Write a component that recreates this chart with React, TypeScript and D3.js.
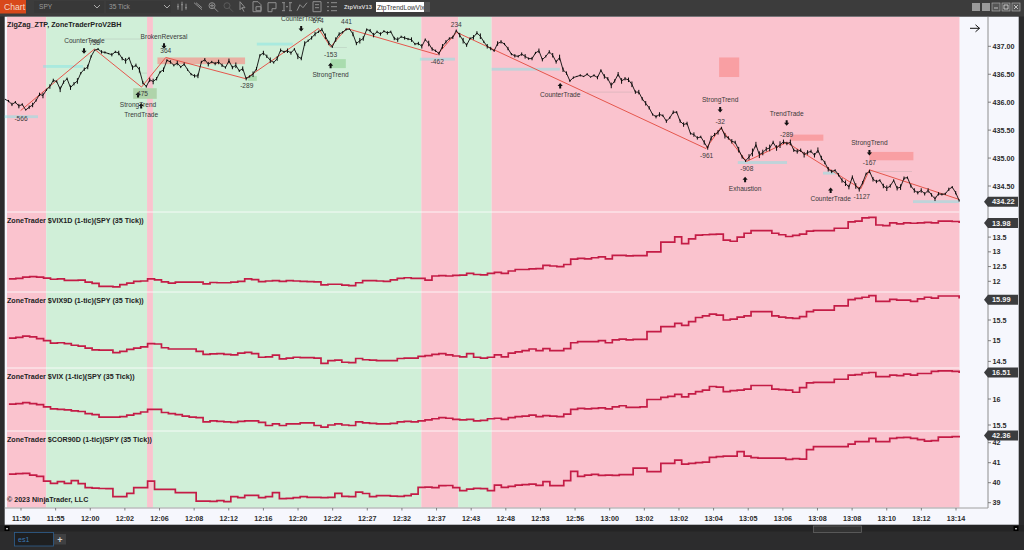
import React from "react";
import * as d3 from "d3";

const timeLabels = ["11:50","11:55","12:00","12:02","12:06","12:08","12:12","12:16","12:20","12:22","12:27","12:32","12:37","12:43","12:48","12:53","12:56","13:00","13:02","13:02","13:04","13:05","13:06","13:08","13:08","13:10","13:12","13:14"];

const price = [436.05,436.02,435.96,436.00,435.93,435.96,435.86,435.91,435.95,436.03,436.14,436.12,436.22,436.28,436.39,436.37,436.23,436.36,436.42,436.26,436.33,436.38,436.52,436.59,436.63,436.82,436.93,436.95,436.90,436.89,436.87,436.85,436.90,436.88,436.78,436.74,436.79,436.62,436.66,436.58,436.35,436.28,436.40,436.37,436.42,436.54,436.58,436.75,436.72,436.66,436.70,436.63,436.68,436.58,436.50,436.47,436.47,436.72,436.76,436.68,436.72,436.69,436.72,436.66,436.62,436.74,436.62,436.66,436.56,436.60,436.42,436.46,436.50,436.60,436.84,436.88,436.82,436.75,436.71,436.78,436.93,436.90,436.92,436.88,436.95,436.82,436.78,437.05,437.10,437.15,437.22,437.26,437.30,437.18,437.06,436.99,437.12,437.22,437.25,437.30,437.31,437.22,437.05,437.10,437.14,437.30,437.28,437.20,437.26,437.22,437.27,437.24,437.26,437.14,437.12,437.17,437.15,437.13,437.12,437.04,437.05,437.00,437.12,437.05,436.95,436.92,436.87,437.00,437.08,437.14,437.16,437.28,437.20,437.10,437.02,437.14,437.16,437.24,437.18,437.08,437.00,436.96,436.92,437.05,437.08,
437.04,436.96,436.86,436.83,436.82,436.86,436.82,436.78,436.78,436.88,436.92,436.76,436.82,436.90,436.84,436.72,436.80,436.58,436.52,436.38,436.44,436.46,436.48,436.46,436.50,436.45,436.48,436.44,436.57,436.46,436.42,436.30,436.38,436.50,436.38,436.42,436.40,436.32,436.18,436.18,436.06,435.98,435.90,435.78,435.74,435.78,435.76,435.66,435.72,435.82,435.82,435.66,435.60,435.62,435.44,435.42,435.36,435.38,435.28,435.18,435.36,435.42,435.46,435.54,435.40,435.36,435.30,435.28,435.15,435.02,434.95,435.02,435.10,435.24,435.06,435.10,435.16,435.18,435.28,435.18,435.24,435.29,435.26,435.28,435.14,435.12,435.14,435.06,435.10,435.12,435.05,435.14,435.00,434.92,434.80,434.76,434.78,434.70,434.60,434.55,434.48,434.66,434.50,434.44,434.56,434.72,434.76,434.62,434.58,434.60,434.50,434.46,434.50,434.60,434.46,434.48,434.64,434.65,434.50,434.42,434.38,434.42,434.36,434.42,434.34,434.27,434.36,434.35,434.36,434.44,434.48,434.38,434.24];

const priceSpread = [0.01,0.02,0.03,0.02,0.04,0.02,0.01,0.03,0.04,0.02,0.03,0.05,0.02,0.04,0.03,0.02,0.05,0.03,0.02,0.04,0.03,0.05,0.02,0.03,0.04,0.02,0.01,0.02,0.03,0.02,0.01,0.03,0.02,0.04,0.03,0.05,0.02,0.04,0.03,0.05,0.03,0.02,0.04,0.05,0.03,0.02,0.04,0.02,0.03,0.02,0.04,0.02,0.03,0.02,0.02,0.03,0.04,0.02,0.03,0.04,0.02,0.03,0.04,0.03,0.02,0.04,0.03,0.05,0.02,0.04,0.03,0.02,0.05,0.03,0.02,0.04,0.03,0.05,0.02,0.04,0.03,0.02,0.04,0.03,0.02,0.05,0.03,0.04,0.02,0.03,0.04,0.02,0.03,0.05,0.04,0.02,0.04,0.03,0.02,0.02,0.01,0.04,0.03,0.05,0.04,0.02,0.03,0.04,0.02,0.03,0.02,0.03,0.02,0.03,0.04,0.02,0.03,0.02,0.04,0.02,0.03,0.04,0.02,0.05,0.03,0.02,0.03,0.04,0.03,0.02,0.03,0.02,0.04,0.05,0.03,0.02,0.04,0.03,0.05,0.02,0.04,0.03,0.02,0.04,0.03,
0.02,0.03,0.02,0.03,0.02,0.03,0.04,0.02,0.03,0.02,0.04,0.03,0.02,0.03,0.04,0.03,0.05,0.04,0.03,0.02,0.02,0.01,0.02,0.01,0.02,0.01,0.02,0.03,0.02,0.04,0.03,0.05,0.03,0.04,0.05,0.03,0.04,0.05,0.03,0.04,0.03,0.04,0.03,0.02,0.03,0.04,0.02,0.03,0.02,0.03,0.02,0.03,0.04,0.03,0.02,0.04,0.03,0.02,0.04,0.03,0.04,0.03,0.04,0.02,0.05,0.03,0.04,0.03,0.05,0.03,0.02,0.05,0.07,0.05,0.06,0.05,0.04,0.06,0.03,0.05,0.06,0.04,0.03,0.05,0.03,0.04,0.03,0.05,0.04,0.03,0.04,0.05,0.04,0.03,0.04,0.03,0.02,0.03,0.04,0.05,0.04,0.03,0.05,0.04,0.03,0.02,0.03,0.04,0.03,0.02,0.04,0.05,0.03,0.02,0.04,0.05,0.03,0.02,0.03,0.04,0.03,0.04,0.03,0.04,0.03,0.04,0.03,0.02,0.02,0.03,0.02,0.03,0.02];

const vix1d = [12.08,12.10,12.14,12.16,12.14,12.11,12.07,12.08,12.03,12.03,12.04,11.97,11.93,11.83,11.83,11.81,11.89,11.94,12.00,12.01,12.08,12.05,11.98,11.94,11.97,11.97,11.97,11.97,11.91,11.96,11.95,11.95,11.97,12.00,12.08,12.06,11.99,12.01,12.02,12.00,12.02,12.01,12.00,11.99,11.98,11.88,11.90,11.90,11.87,11.85,11.95,12.02,12.02,12.01,12.00,12.05,12.10,12.12,12.10,12.10,12.04,12.18,12.19,12.18,12.20,12.21,12.27,12.23,12.22,12.27,12.30,12.27,12.35,12.40,12.40,12.42,12.43,12.54,12.52,12.50,12.57,12.75,12.78,12.76,12.80,12.83,12.76,12.88,12.88,12.86,12.87,12.87,13.00,13.00,13.33,13.33,13.51,13.28,13.44,13.57,13.58,13.59,13.60,13.40,13.36,13.50,13.63,13.72,13.72,13.72,13.63,13.58,13.52,13.56,13.60,13.70,13.72,13.72,13.72,13.80,13.80,14.02,14.04,14.15,14.17,13.91,13.89,13.98,13.95,13.98,13.97,13.98,14.00,13.98,14.04,14.04,14.03,13.98];

const vix9d = [15.06,15.08,15.11,15.09,15.05,15.00,14.94,14.95,14.93,14.89,14.87,14.82,14.78,14.77,14.77,14.71,14.74,14.79,14.82,14.85,14.93,14.92,14.83,14.80,14.80,14.80,14.80,14.74,14.67,14.68,14.69,14.67,14.66,14.70,14.72,14.69,14.60,14.61,14.65,14.56,14.58,14.60,14.59,14.59,14.58,14.45,14.52,14.53,14.48,14.47,14.57,14.54,14.53,14.52,14.52,14.52,14.57,14.58,14.58,14.62,14.64,14.67,14.69,14.66,14.63,14.61,14.69,14.60,14.58,14.60,14.66,14.61,14.70,14.73,14.76,14.80,14.76,14.81,14.76,14.76,14.81,14.95,14.98,14.98,14.98,15.00,14.95,15.02,15.04,15.02,15.03,15.03,15.22,15.22,15.34,15.34,15.42,15.37,15.46,15.56,15.60,15.64,15.62,15.50,15.52,15.57,15.60,15.70,15.70,15.70,15.60,15.57,15.55,15.54,15.58,15.70,15.74,15.74,15.74,15.84,15.84,15.99,16.02,16.05,16.09,15.95,15.95,16.00,15.98,15.98,15.95,16.01,16.05,16.03,16.08,16.08,16.08,16.02];

const vix = [15.90,15.91,15.93,15.91,15.89,15.85,15.81,15.80,15.79,15.77,15.76,15.72,15.70,15.65,15.65,15.65,15.66,15.69,15.72,15.75,15.80,15.80,15.74,15.72,15.70,15.67,15.65,15.64,15.56,15.58,15.57,15.56,15.55,15.57,15.58,15.58,15.55,15.49,15.52,15.49,15.52,15.52,15.54,15.54,15.49,15.46,15.50,15.52,15.50,15.49,15.56,15.54,15.53,15.52,15.52,15.53,15.56,15.57,15.56,15.58,15.60,15.62,15.64,15.63,15.61,15.60,15.61,15.58,15.59,15.62,15.63,15.61,15.64,15.66,15.67,15.69,15.66,15.68,15.67,15.66,15.71,15.80,15.82,15.81,15.82,15.83,15.81,15.85,15.87,15.84,15.84,15.85,15.99,15.99,16.03,16.05,16.09,16.04,16.10,16.14,16.17,16.24,16.23,16.14,16.16,16.17,16.19,16.26,16.26,16.26,16.19,16.18,16.17,16.13,16.22,16.31,16.32,16.32,16.32,16.38,16.38,16.46,16.47,16.50,16.51,16.43,16.43,16.46,16.45,16.48,16.46,16.49,16.49,16.53,16.54,16.54,16.53,16.50];

const cor90d = [40.43,40.45,40.47,40.38,40.32,40.08,39.97,40.05,39.97,40.10,39.95,39.75,39.73,39.71,39.70,39.30,39.30,39.47,39.75,39.75,40.08,39.67,39.67,39.67,39.50,39.50,39.50,39.08,39.08,39.07,39.10,39.05,39.30,39.25,39.37,39.37,39.25,39.30,39.50,39.20,39.22,39.25,39.30,39.27,39.27,39.25,39.27,39.47,39.32,39.30,39.53,39.46,39.30,39.35,39.35,39.33,39.32,39.35,39.43,39.77,39.78,39.75,39.85,39.86,39.75,39.60,39.68,39.72,39.70,39.60,39.88,39.77,39.82,39.88,39.90,39.93,39.87,40.05,39.85,39.85,40.10,40.57,40.32,40.38,40.42,40.37,40.38,40.37,40.40,40.40,40.73,40.73,40.55,40.55,40.97,40.97,41.13,40.93,40.97,41.00,41.03,41.27,41.30,41.33,41.33,41.55,41.33,41.25,41.23,41.23,41.23,41.23,41.17,41.20,41.18,41.65,41.80,41.80,41.80,41.80,41.80,41.93,42.05,42.05,42.22,42.05,42.05,42.22,42.25,42.27,42.22,42.15,42.08,42.10,42.28,42.28,42.30,42.35];

const zigT = [-0.01,2.12,3.48,4.18,6.49,8.59,8.94,9.40,12.02,12.58,19.78,20.20,20.95,22.11,24.25,24.50,27.09];
const zigV = [435.85,436.95,436.27,436.80,436.42,437.32,436.99,437.32,436.85,437.25,435.17,435.54,434.94,435.28,434.45,434.79,434.26];

const regimeEdges = [-0.404,0.73,3.64,3.81,11.56,12.63,13.59,27.1];
const regimeKinds = ["down","up","down","up","down","up","down"];

const noteText = ["-566","758","CounterTrade","475","StrongTrend","TrendTrade","BrokenReversal","364","-289","CounterTrade","674","441","-153","StrongTrend","-462","234","CounterTrade","StrongTrend","-32","-961","TrendTrade","-289","-908","Exhaustion","StrongTrend","-167","-1127","CounterTrade"];
const noteT = [0,2.12,1.83,3.51,3.38,3.47,4.13,4.18,6.52,8.09,8.58,9.40,8.94,8.94,12.02,12.57,15.57,20.19,20.19,19.80,22.11,22.11,20.96,20.91,24.50,24.50,24.28,23.38];
const noteV = [435.71,437.07,437.10,436.15,435.96,435.77,437.18,436.92,436.30,437.50,437.46,437.44,436.86,436.49,436.72,437.38,436.14,436.04,435.66,435.04,435.80,435.42,434.82,434.46,435.28,434.92,434.31,434.27];

const arrowDir = [1,-1,-1,1,1,-1,-1,1,1,-1,1,-1];
const arrowT = [1.82,3.38,3.47,4.13,8.09,8.94,15.57,20.19,22.11,20.91,24.50,23.38];
const arrowV = [436.92,436.13,435.93,437.01,437.32,436.65,436.29,435.87,435.63,434.61,435.10,434.42];

const zoneT0 = [3.94,3.24,6.55,8.94,20.16,22.21,24.50];
const zoneT1 = [6.47,3.92,6.81,9.38,20.74,23.17,25.77];
const zoneHi = [436.80,436.25,436.47,436.77,436.80,435.42,435.11];
const zoneLo = [436.68,436.06,436.38,436.61,436.45,435.31,434.96];
const zoneFill = ["#E9AFA2","#AFD4AA","#AEDDB3","#A9DCAE","#F99FA3","#F99FA3","#F99FA3"];

const levelT0 = [-0.6,0.64,6.81,11.52,13.59,20.70,23.16,25.76];
const levelT1 = [0.49,1.79,7.85,12.53,15.56,22.12,23.56,27.09];
const levelV = [435.74,436.64,437.04,436.77,436.59,434.92,434.73,434.22];

const faintT0 = [2.37,3.38,8.92,16.34,24.52];
const faintT1 = [3.52,3.64,9.41,17.67,25.73];
const faintV = [437.13,436.52,436.98,436.18,434.76];

const priceTicks = [437,436.5,436,435.5,435,434.5];
const vix1dTicks = [13.5,13,12.5,12];
const vix9dTicks = [15.5,15,14.5];
const vixTicks = [16,15.5];
const corTicks = [42,41,40,39];

const seriesTitles = ["ZoneTrader $VIX1D (1-tic)(SPY (35 Tick))","ZoneTrader $VIX9D (1-tic)(SPY (35 Tick))","ZoneTrader $VIX (1-tic)(SPY (35 Tick))","ZoneTrader $COR90D (1-tic)(SPY (35 Tick))"];

const font = "'Liberation Sans', Arial, sans-serif";
const x = d3.scaleLinear().domain([0, 27]).range([21, 956]);
const yPrice = d3.scaleLinear().domain([434.5, 437]).range([186, 46.3]);
const priceIndex = d3.scaleLinear().domain([0, price.length - 1]).range([-0.46, 27.09]);

const panels = [
  { title: seriesTitles[0], data: vix1d, y: d3.scaleLinear().domain([12, 13.5]).range([281.3, 237.1]), ticks: vix1dTicks, last: 13.98, top: 212, tickFmt: (v: number) => String(v) },
  { title: seriesTitles[1], data: vix9d, y: d3.scaleLinear().domain([14.5, 15.5]).range([361.4, 320]), ticks: vix9dTicks, last: 15.99, top: 292, tickFmt: (v: number) => String(v) },
  { title: seriesTitles[2], data: vix, y: d3.scaleLinear().domain([15.5, 16]).range([425, 399]), ticks: vixTicks, last: 16.51, top: 368, tickFmt: (v: number) => String(v) },
  { title: seriesTitles[3], data: cor90d, y: d3.scaleLinear().domain([39, 42]).range([502.7, 442.7]), ticks: corTicks, last: 42.36, top: 431, tickFmt: (v: number) => String(v) },
];

const priceLine = d3.line<number>().x((_, i) => x(priceIndex(i))).y((v) => yPrice(v)).curve(d3.curveLinear);
const zigLine = d3.line<number>().x((_, i) => x(zigT[i])).y((v) => yPrice(v));

function Flag({ yc, text }: { yc: number; text: string }) {
  return (
    <g>
      <path d={`M984 ${yc} L988 ${yc - 5} H1018 V${yc + 5} H988 Z`} fill="#3b3c3e" />
      <text x={992} y={yc + 2.6} fontFamily={font} fontWeight={700} fontSize={7.4} fill="#f2f2f2">{text}</text>
    </g>
  );
}

const iconXs = [182, 198, 213, 228, 242, 257, 272, 287, 302, 317, 332];

function Icon({ i, cx }: { i: number; cx: number }) {
  const s = "#8f8f8f";
  const paths = [
    "M-4 -3V3M0 -5V4M4 -3V3M-5 0H-3M-1 -2H1M3 1H5",
    "M-4 -4L4 3M-2 -4L4 1",
    "M-1 -1m-3 0a3 3 0 1 0 6 0a3 3 0 1 0 -6 0M1 1L5 5M-3 -1H1M-1 -3V1",
    "M-1 -1m-3 0a3 3 0 1 0 6 0a3 3 0 1 0 -6 0M1 1L5 5",
    "M-2 -5L3 1H0L2 5M-2 -5V3L0 1",
    "M-4 -5H1L4 -2V5H-4ZM-1 0H4V4H-1Z",
    "M-4 -4H4V2H0V5H-4Z",
    "M-5 -4H-2M2 -4H5M-5 4H-2M2 4H5M-3 -4V4M3 -4V4M-1 0H1",
    "M-5 4L-2 -2L1 1L5 -4",
    "M-4 -5H4V5H-4ZM-2 -2H2M-2 1H2",
    "M-5 -4H-3M-1 -4H5M-5 0H-3M-1 0H5M-5 4H-3M-1 4H5",
  ];
  return <path transform={`translate(${cx},6.7)`} d={paths[i]} fill="none" stroke={s} strokeWidth={1} opacity={i === 3 ? 0.35 : 1} />;
}

export default function App() {
  const bands = regimeKinds.map((k, i) => ({ k, a: x(regimeEdges[i]), b: x(regimeEdges[i + 1]) }));
  return (
    <svg width={1024} height={550} viewBox="0 0 1024 550" style={{ position: "fixed", left: 0, top: 0, display: "block" }}>
      <defs>
        <clipPath id="plot"><rect x={4.7} y={16.7} width={960} height={491} /></clipPath>
      </defs>
      <rect width={1024} height={550} fill="#2b2b2c" />
      <rect width={1024} height={16.5} fill="#3c3c3c" />
      <rect x={0} y={0} width={26} height={13.5} fill="#d8481a" />
      <text x={4} y={10} fontFamily={font} fontSize={8.6} fill="#f4d8c8">Chart</text>
      <rect x={34} y={1} width={70} height={12} fill="#383838" />
      <text x={39} y={9.3} fontFamily={font} fontSize={6.6} fill="#9a9a9a">SPY</text>
      <path d="M94 5L97 8L100 5" fill="none" stroke="#aaa" strokeWidth={1} />
      <rect x={106} y={1} width={65} height={12} fill="#383838" />
      <text x={109} y={9.3} fontFamily={font} fontSize={6.6} fill="#9a9a9a">35 Tick</text>
      <path d="M164 5L167 8L170 5" fill="none" stroke="#aaa" strokeWidth={1} />
      {iconXs.map((cx, i) => <Icon key={i} i={i} cx={cx} />)}
      <text x={344} y={9.3} fontFamily={font} fontWeight={700} fontSize={5.8} fill="#d8d8d8">ZtpVixV13</text>
      <rect x={376} y={2} width={48} height={10} fill="#ffffff" />
      <text x={377} y={9.6} fontFamily={font} fontSize={6.6} fill="#333">ZtpTrendLowVix</text>
      <rect x={424} y={2} width={6} height={10} fill="#555" />
      <rect x={972} y={3} width={8} height={8} fill="#9a9a9a" />
      <rect x={982} y={3} width={8} height={8} fill="#9a9a9a" />
      {[992, 1002, 1012].map((bx) => <rect key={bx} x={bx} y={3} width={8} height={8} fill="#555" stroke="#aaa" strokeWidth={0.7} />)}
      <path d="M994 8H998M1004 5H1008V9H1004ZM1014 5L1018 9M1018 5L1014 9" fill="none" stroke="#ddd" strokeWidth={0.8} />

      <rect x={4.7} y={16.7} width={1014} height={508} fill="#f6f7fd" />

      <g clipPath="url(#plot)">
        {bands.map((b, i) => (
          <rect key={i} x={b.a} y={16.7} width={b.b - b.a} height={491} fill={b.k === "down" ? "#fac3ce" : "#d0efd8"} />
        ))}
        {zoneT0.map((t, i) => (
          <rect key={i} x={x(t)} y={yPrice(zoneHi[i])} width={x(zoneT1[i]) - x(t)} height={yPrice(zoneLo[i]) - yPrice(zoneHi[i])} fill={zoneFill[i]} />
        ))}
        {levelT0.map((t, i) => (
          <rect key={i} x={x(t)} y={yPrice(levelV[i]) - 1.4} width={x(levelT1[i]) - x(t)} height={2.8} fill="rgb(130,230,230)" opacity={0.5} />
        ))}
        {faintT0.map((t, i) => (
          <line key={i} x1={x(t)} x2={x(faintT1[i])} y1={yPrice(faintV[i])} y2={yPrice(faintV[i])} stroke="#999" strokeWidth={0.5} opacity={0.5} />
        ))}
        <path d={zigLine(zigV) ?? ""} fill="none" stroke="#e5564c" strokeWidth={1} />
        <path d={priceLine(price) ?? ""} fill="none" stroke="#0b0b0b" strokeWidth={0.9} strokeLinejoin="round" />
        {price.map((v, i) => {
          const w = priceSpread[i] ?? 0.02;
          return <line key={i} x1={x(priceIndex(i))} x2={x(priceIndex(i))} y1={yPrice(v + w)} y2={yPrice(v - w)} stroke="#0b0b0b" strokeWidth={1} />;
        })}
        {panels.map((p, pi) => {
          const idx = d3.scaleLinear().domain([0, p.data.length - 1]).range([-0.35, 27.09]);
          const line = d3.line<number>().x((_, i) => x(idx(i))).y((v) => p.y(v)).curve(d3.curveStepAfter);
          return <path key={pi} d={line(p.data) ?? ""} fill="none" stroke="#c41c46" strokeWidth={1.7} />;
        })}
        {panels.map((p, pi) => (
          <line key={pi} x1={7} x2={959.5} y1={p.top} y2={p.top} stroke="#ffffff" strokeWidth={1} opacity={0.8} />
        ))}
      </g>

      {arrowT.map((t, i) => {
        const ax = x(t), ay = yPrice(arrowV[i]), d = arrowDir[i];
        return (
          <path key={i} d={`M${ax - 1} ${ay - 2.5 * d}H${ax + 1}V${ay}H${ax + 2.6}L${ax} ${ay + 3 * d}L${ax - 2.6} ${ay}H${ax - 1}Z`} fill="#111" />
        );
      })}
      {noteText.map((s, i) => (
        <text key={i} x={x(noteT[i])} y={yPrice(noteV[i]) + 2.4} textAnchor="middle" fontFamily={font} fontSize={6.6} fill="#3a3a3a">{s}</text>
      ))}

      <text x={7} y={27} fontFamily={font} fontWeight={700} fontSize={7.2} fill="#222">ZigZag_ZTP, ZoneTraderProV2BH</text>
      {panels.map((p, i) => (
        <text key={i} x={7} y={p.top + 10.5} fontFamily={font} fontWeight={700} fontSize={7.15} fill="#222">{p.title}</text>
      ))}
      <text x={7} y={501.5} fontFamily={font} fontWeight={700} fontSize={7.1} fill="#222">© 2023 NinjaTrader, LLC</text>

      <path d="M970 28.3H979.5M975.5 24.8L979.5 28.3L975.5 31.8" fill="none" stroke="#111" strokeWidth={1} />

      <line x1={988} x2={988} y1={17} y2={508} stroke="#8e8e8e" strokeWidth={1} />
      <line x1={4.7} x2={988} y1={508} y2={508} stroke="#a0a0a0" strokeWidth={1} />
      {priceTicks.map((v) => (
        <g key={v}>
          <line x1={988} x2={991} y1={yPrice(v)} y2={yPrice(v)} stroke="#666" strokeWidth={0.8} />
          <text x={992.5} y={yPrice(v) + 2.6} fontFamily={font} fontWeight={700} fontSize={7.2} fill="#2a2a2a">{v.toFixed(2)}</text>
        </g>
      ))}
      {panels.map((p, pi) => (
        <g key={pi}>
          {p.ticks.map((v) => (
            <g key={v}>
              <line x1={988} x2={991} y1={p.y(v)} y2={p.y(v)} stroke="#666" strokeWidth={0.8} />
              <text x={992.5} y={p.y(v) + 2.6} fontFamily={font} fontWeight={700} fontSize={7.2} fill="#2a2a2a">{p.tickFmt(v)}</text>
            </g>
          ))}
        </g>
      ))}
      <Flag yc={yPrice(434.22)} text="434.22" />
      {panels.map((p, i) => <Flag key={i} yc={p.y(p.last)} text={p.last.toFixed(2)} />)}

      {timeLabels.map((s, i) => (
        <g key={i}>
          <line x1={x(i)} x2={x(i)} y1={508} y2={510.5} stroke="#666" strokeWidth={0.8} />
          <text x={x(i)} y={521} textAnchor="middle" fontFamily={font} fontWeight={700} fontSize={7.2} fill="#2a2a2a">{s}</text>
        </g>
      ))}

      <rect x={0} y={525} width={1024} height={25} fill="#2c2c2d" />
      <rect x={0} y={525} width={1024} height={6.5} fill="#242425" />
      <rect x={4.5} y={526} width={5} height={5} fill="#000" />
      <rect x={6.3} y={528} width={1.4} height={1.4} fill="#fff" />
      <rect x={1013.5} y={526} width={5} height={5} fill="#000" />
      <rect x={1015.3} y={528} width={1.4} height={1.4} fill="#fff" />
      <rect x={813.5} y={526} width={48} height={6.5} fill="#333" stroke="#6a6a6a" strokeWidth={0.7} />
      <rect x={14.5} y={532.5} width={39} height={13.5} fill="#1e1f20" stroke="#2f5f8f" strokeWidth={0.8} />
      <text x={18} y={542} fontFamily={font} fontSize={7} fill="#3a78b4">es1</text>
      <rect x={54} y={534} width={12} height={10.5} fill="#3f4042" />
      <text x={60} y={542.5} textAnchor="middle" fontFamily={font} fontWeight={700} fontSize={9} fill="#cfcfcf">+</text>
    </svg>
  );
}
